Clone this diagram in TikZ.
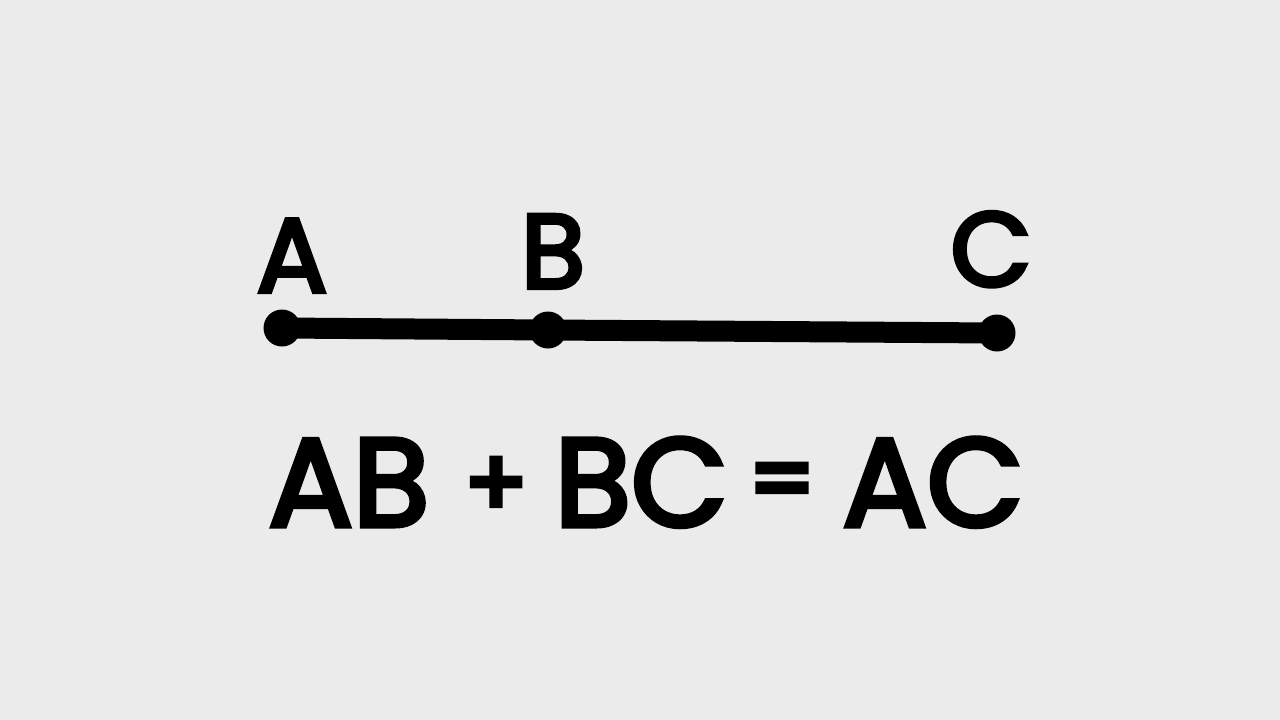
\documentclass[tikz,border=0pt]{standalone}
\usepackage{fontspec}
\setmainfont{Poppins}
\newfontfamily\hand[FakeBold=4]{Poppins}
\newfontfamily\handop[FakeBold=6]{Poppins}
\begin{document}
\begin{tikzpicture}[x=1pt,y=-1pt,
  dot/.style={circle,fill=black,inner sep=0pt,minimum size=37pt},
  seg/.style={line width=21pt,line cap=round},
  lbl/.style={font=\hand\fontsize{105}{105}\selectfont,inner sep=0pt,anchor=base},
  eq/.style={font=\hand\fontsize{125}{125}\selectfont,inner sep=0pt,anchor=base},
  op/.style={font=\handop\fontsize{92}{92}\selectfont,inner sep=0pt,anchor=center}]
\fill[fill={rgb,255:red,235;green,235;blue,235}] (0,0) rectangle (1280,720);
\useasboundingbox (0,0) rectangle (1280,720);
\node[dot] (A) at (282,328) {};
\node[dot] (B) at (548,330) {};
\node[dot] (C) at (997,333) {};
\draw[seg] (A.center) -- (B.center);
\draw[seg] (B.center) -- (C.center);
\node[lbl] (la) at (292,292) {A};
\node[lbl] (lb) at (553,288) {B};
\node[lbl] (lc) at (991,286) {C};
\node[eq] (e1) at (349,526) {AB};
\node[op] (e2) at (496,487) {+};
\node[eq] (e3) at (641,526) {BC};
\node[op] (e4) at (782,488) {=};
\node[eq] (e5) at (933,526) {AC};
\end{tikzpicture}
\end{document}
